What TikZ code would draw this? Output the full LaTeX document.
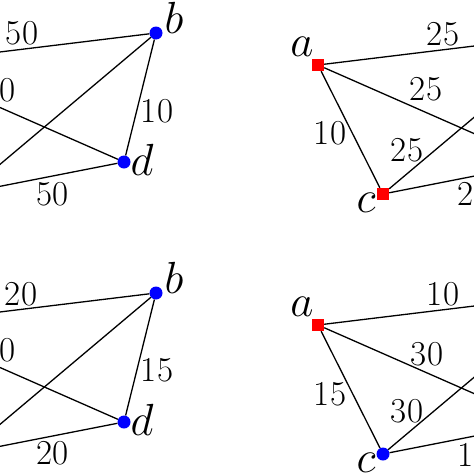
\documentclass[tikz,border=0pt]{standalone}
\usepackage{fix-cm}
\begin{document}
\begin{tikzpicture}[x=1pt,y=-1pt,
  edge/.style={line width=1.3pt, black},
  bnode/.style={circle, fill=blue, inner sep=0pt, minimum size=13pt},
  rnode/.style={rectangle, fill=red, inner sep=0pt, minimum size=12pt},
  hnode/.style={circle, inner sep=0pt, minimum size=13pt},
  vlab/.style={inner sep=0pt, font=\fontsize{45}{50}\selectfont},
  wlab/.style={inner sep=0pt, font=\fontsize{35}{40}\selectfont}]
\useasboundingbox (0,0) rectangle (474,474);
\clip (0,0) rectangle (474,474);
\fill[white] (0,0) rectangle (474,474);

% ---------- top left ----------
\begin{scope}[shift={(-99,64)}]
  \node[hnode] (A1) at (0,0) {};
  \node[bnode] (B1) at (255,-31) {};
  \node[hnode] (C1) at (65,129) {};
  \node[bnode] (D1) at (223,98) {};
  \draw[edge] (A1) -- (B1);
  \draw[edge] (A1) -- (D1);
  \draw[edge] (C1) -- (B1);
  \draw[edge] (B1) -- (D1);
  \draw[edge] (C1) -- (D1);
  \node[vlab] (lb1) at (273,-46) {$b$};
  \node[vlab] (ld1) at (241,96) {$d$};
  \node[wlab] (wab1) at (121,-31) {50};
  \node[wlab] (wad1) at (99,26) {10};
  \node[wlab] (wbc1) at (85,86) {25};
  \node[wlab] (wbd1) at (256,47) {10};
  \node[wlab] (wcd1) at (152,130) {50};
\end{scope}

% ---------- top right ----------
\begin{scope}[shift={(318,65)}]
  \node[rnode] (A2) at (0,0) {};
  \node[hnode] (B2) at (255,-31) {};
  \node[rnode] (C2) at (65,129) {};
  \node[hnode] (D2) at (223,98) {};
  \draw[edge] (A2) -- (B2);
  \draw[edge] (A2) -- (D2);
  \draw[edge] (A2) -- (C2);
  \draw[edge] (C2) -- (B2);
  \draw[edge] (C2) -- (D2);
  \node[vlab] (la2) at (-16,-18) {$a$};
  \node[vlab] (lc2) at (48,138) {$c$};
  \node[wlab] (wab2) at (125,-31) {25};
  \node[wlab] (wad2) at (108,24) {25};
  \node[wlab] (wac2) at (12,68) {10};
  \node[wlab] (wbc2) at (89,85) {25};
  \node[wlab] (wcd2) at (156,129) {25};
\end{scope}

% ---------- bottom left ----------
\begin{scope}[shift={(-99,324)}]
  \node[hnode] (A3) at (0,0) {};
  \node[bnode] (B3) at (255,-31) {};
  \node[hnode] (C3) at (65,129) {};
  \node[bnode] (D3) at (223,98) {};
  \draw[edge] (A3) -- (B3);
  \draw[edge] (A3) -- (D3);
  \draw[edge] (C3) -- (B3);
  \draw[edge] (B3) -- (D3);
  \draw[edge] (C3) -- (D3);
  \node[vlab] (lb3) at (273,-46) {$b$};
  \node[vlab] (ld3) at (241,96) {$d$};
  \node[wlab] (wab3) at (120,-30) {20};
  \node[wlab] (wad3) at (99,26) {10};
  \node[wlab] (wbc3) at (85,86) {15};
  \node[wlab] (wbd3) at (256,46) {15};
  \node[wlab] (wcd3) at (152,129) {20};
\end{scope}

% ---------- bottom right ----------
\begin{scope}[shift={(318,325)}]
  \node[rnode] (A4) at (0,0) {};
  \node[hnode] (B4) at (255,-31) {};
  \node[bnode] (C4) at (65,129) {};
  \node[hnode] (D4) at (223,98) {};
  \draw[edge] (A4) -- (B4);
  \draw[edge] (A4) -- (D4);
  \draw[edge] (A4) -- (C4);
  \draw[edge] (C4) -- (B4);
  \draw[edge] (C4) -- (D4);
  \node[vlab] (la4) at (-16,-18) {$a$};
  \node[vlab] (lc4) at (48,138) {$c$};
  \node[wlab] (wab4) at (125,-31) {10};
  \node[wlab] (wad4) at (109,29) {30};
  \node[wlab] (wac4) at (12,69) {15};
  \node[wlab] (wbc4) at (89,86) {30};
  \node[wlab] (wcd4) at (156,130) {15};
\end{scope}
\end{tikzpicture}
\end{document}
